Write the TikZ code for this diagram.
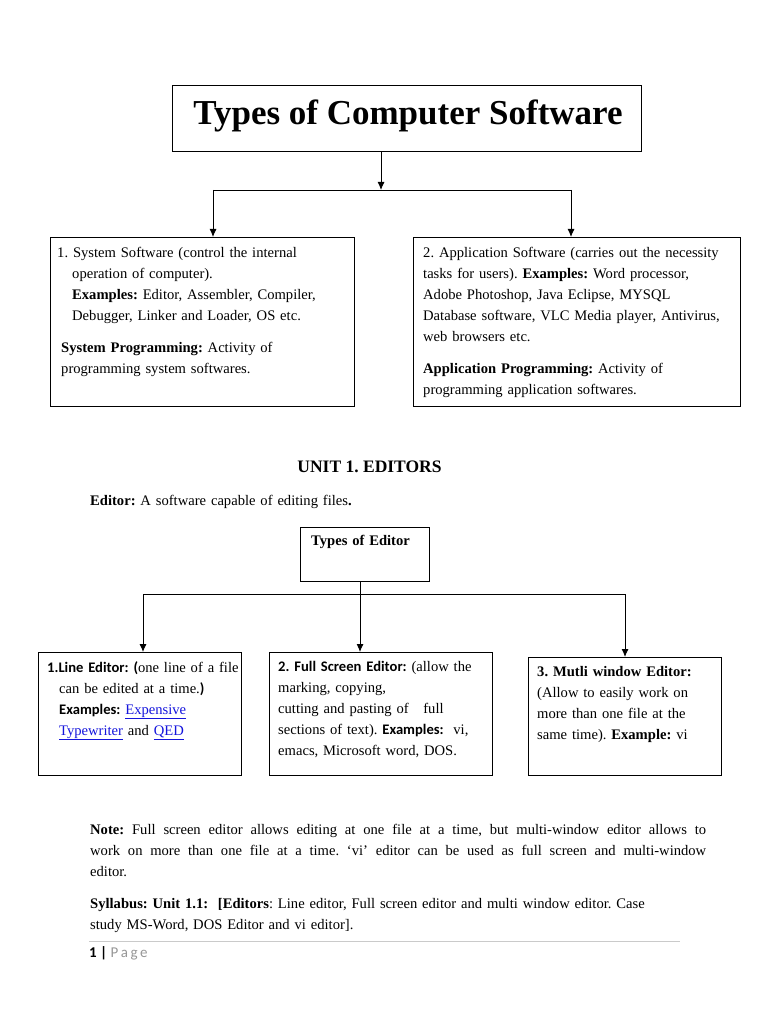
\documentclass[tikz,border=0pt]{standalone}
\usepackage{fontspec}
\setmainfont{Liberation Serif}
\newfontfamily\calibrifont{Carlito}
\usepackage{tikz}
\usetikzlibrary{calc}
\usetikzlibrary{positioning}
\usetikzlibrary{arrows}
\usetikzlibrary{arrows.meta}
\definecolor{linkblue}{RGB}{20,20,220}
\definecolor{pagegray}{RGB}{150,150,150}
\frenchspacing
\tikzset{
  box/.style={draw=black, line width=1pt, rectangle, inner sep=0pt, anchor=north west},
  boxtext/.style={anchor=base west, align=left, text width=340, inner sep=0pt, font=\fontsize{14.6}{21}\selectfont},
  conn/.style={line width=0.9pt, >={Latex[length=8pt,width=7pt]}}
}
\newcommand{\calbf}[1]{{\calibrifont\bfseries #1}}
\newcommand{\weblink}[1]{\textcolor{linkblue}{\underline{#1}}}

\begin{document}
\begin{tikzpicture}[x=1pt, y=-1pt]
            \useasboundingbox (0,0) rectangle (768,1024);

            \node [box, minimum width=469, minimum height=66] (title) at (172,85) {};
            \node [anchor=base, inner sep=0pt, font=\fontsize{35}{40}\selectfont\bfseries] (titletxt) at (408,125) {Types of Computer Software};

            \node [box, minimum width=304, minimum height=169] (system) at (50,237) {};
            \node [boxtext] (systxt) at (57,257) {1. System Software (control the internal\\\hspace*{15pt}operation of computer).\\\hspace*{15pt}\textbf{Examples:} Editor, Assembler, Compiler,\\\hspace*{15pt}Debugger, Linker and Loader, OS etc.};
            \node [boxtext] (sysprog) at (61,352) {\textbf{System Programming:} Activity of\\programming system softwares.};

            \node [box, minimum width=327, minimum height=169] (application) at (413,237) {};
            \node [boxtext] (apptxt) at (423,257) {2. Application Software (carries out the necessity\\tasks for users). \textbf{Examples:} Word processor,\\Adobe Photoshop, Java Eclipse, MYSQL\\Database software, VLC Media player, Antivirus,\\web browsers etc.};
            \node [boxtext] (appprog) at (423,373) {\textbf{Application Programming:} Activity of\\programming application softwares.};

            \coordinate (split) at (381,190);
            \coordinate (forkleft) at (213,190);
            \coordinate (forkright) at (571,190);
            \path [conn, ->] (title.south -| split) edge (split);
            \draw [conn] (forkleft) -- (forkright);
            \path [conn, ->] (forkleft) edge (forkleft |- system.north);
            \path [conn, ->] (forkright) edge (forkright |- application.north);

            \node [anchor=base, inner sep=0pt, font=\fontsize{17.5}{21}\selectfont\bfseries] (unit) at (369.5,472) {UNIT 1. EDITORS};
            \node [boxtext, text width=500] (editordef) at (90,505) {\textbf{Editor:} A software capable of editing files\textbf{.}};

            \node [box, minimum width=129, minimum height=54] (types) at (300,527) {};
            \node [boxtext, font=\fontsize{14.6}{21}\selectfont\bfseries] (typestxt) at (311,545) {Types of Editor};

            \node [box, minimum width=203, minimum height=123] (line) at (38,652) {};
            \node [boxtext] (linetxt) at (47,672) {\calbf{1.Line Editor: (}one line of a file\\\hspace*{12pt}can be edited at a time.\calbf{)}\\\hspace*{12pt}\calbf{Examples:} \weblink{Expensive}\\\hspace*{12pt}\weblink{Typewriter} and \weblink{QED}};

            \node [box, minimum width=223, minimum height=123] (full) at (269,652) {};
            \node [boxtext] (fulltxt) at (278,671) {\calbf{2. Full Screen Editor:} (allow the\\marking, copying,\\cutting and pasting of \ \ full\\sections of text). \calbf{Examples:}\ \ vi,\\emacs, Microsoft word, DOS.};

            \node [box, minimum width=193, minimum height=118] (multi) at (528,657) {};
            \node [boxtext] (multitxt) at (537,676) {\textbf{3. Mutli window Editor:}\\(Allow to easily work on\\more than one file at the\\same time). \textbf{Example:} vi};

            \coordinate (split2) at (360,594);
            \coordinate (fork2left) at (143,594);
            \coordinate (fork2right) at (625,594);
            \draw [conn] (types.south -| split2) -- (split2);
            \draw [conn] (fork2left) -- (fork2right);
            \path [conn, ->] (fork2left) edge (fork2left |- line.north);
            \path [conn, ->] (split2) edge (split2 |- full.north);
            \path [conn, ->] (fork2right) edge (fork2right |- multi.north);

            \node [boxtext, align=justify, text width=616] (note) at (90,834) {\textbf{Note:} Full screen editor allows editing at one file at a time, but multi-window editor allows to\linebreak work on more than one file at a time. `vi' editor can be used as full screen and multi-window\linebreak editor.};
            \node [boxtext, text width=616] (syllabus) at (90,908) {\textbf{Syllabus: Unit 1.1:\ \ [Editors}: Line editor, Full screen editor and multi window editor. Case\\study MS-Word, DOS Editor and vi editor].};

            \draw [pagegray!50, line width=0.8pt] (89,941) -- (680,941);
            \node [anchor=base west, inner sep=0pt, font=\fontsize{15}{18}\calibrifont] (pagenum) at (89,957) {\textbf{1 |} \textcolor{pagegray}{P\,a\,g\,e}};
        \end{tikzpicture}
\end{document}
